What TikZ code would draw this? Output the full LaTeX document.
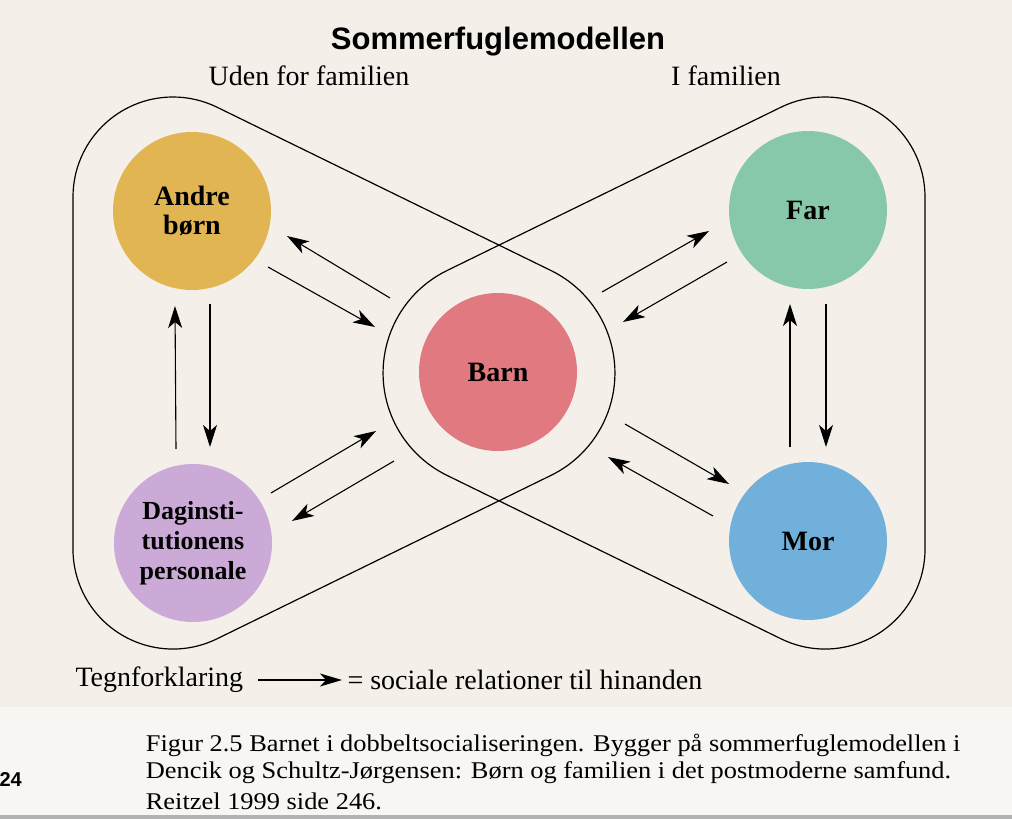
\documentclass[tikz,border=0pt]{standalone}
\usepackage{fontspec}
\setmainfont{Liberation Serif}
\setsansfont{Liberation Sans}
\usetikzlibrary{arrows.meta}
\definecolor{pagebg}{HTML}{F4F0E9}
\definecolor{pagebg2}{HTML}{F8F6F2}
\definecolor{cyellow}{HTML}{E2B553}
\definecolor{cgreen}{HTML}{86C8A9}
\definecolor{cred}{HTML}{E07A80}
\definecolor{cviolet}{HTML}{CBAAD8}
\definecolor{cblue}{HTML}{72B0DC}
\tikzset{
  person/.style={circle,minimum size=158pt,inner sep=0pt,align=center,font=\fontsize{28}{29}\selectfont\bfseries},
  rel/.style={-{Stealth[length=22pt,width=14pt,inset=6pt]},line width=1.1pt},
  loopline/.style={line width=1.2pt},
  lbl/.style={font=\fontsize{28}{30}\selectfont},
  captext/.style={font=\fontsize{24}{28}\selectfont,anchor=west,xscale=1.1,transform shape}
}
\begin{document}
\begin{tikzpicture}[x=1pt,y=-1pt]
\useasboundingbox (0,0) rectangle (1012,819);
\fill[pagebg] (0,0) rectangle (1012,707);
\fill[pagebg2] (0,707) rectangle (1012,815);
\fill[gray!60] (0,815) rectangle (1012,819);
\node[font=\fontsize{31}{33}\selectfont\sffamily\bfseries] (title) at (498,42) {Sommerfuglemodellen};
\node[lbl] (uden) at (309,76) {Uden for familien};
\node[lbl] (ifam) at (726,76) {I familien};
% loops
\draw[loopline] (73,197) arc[start angle=180,end angle=296,radius=100] -- (550.9,270.5)
  arc[start angle=-64,end angle=64,radius=114] -- (216.8,638.9)
  arc[start angle=64,end angle=180,radius=100] -- cycle;
\draw[loopline] (925,197) arc[start angle=0,end angle=-116,radius=100] -- (447.1,270.5)
  arc[start angle=244,end angle=116,radius=114] -- (781.2,638.9)
  arc[start angle=116,end angle=0,radius=100] -- cycle;
% persons
\node[person,fill=cyellow] (andre) at (192,211) {Andre\\børn};
\node[person,fill=cgreen] (far) at (808,210) {Far};
\node[person,fill=cred] (barn) at (498,372) {Barn};
\node[person,fill=cviolet,font=\fontsize{26}{30}\selectfont\bfseries] (dag) at (193,543) {Daginsti-\\tutionens\\personale};
\node[person,fill=cblue] (mor) at (808,541) {Mor};
% arrows
\draw[rel] ([shift={(198,87)}]andre.center) -- ([shift={(95,25)}]andre.center);
\draw[rel] ([shift={(76,56)}]andre.center) -- ([shift={(-123,-45)}]barn.center);
\draw[rel] ([shift={(104,-80)}]barn.center) -- ([shift={(-99,21)}]far.center);
\draw[rel] ([shift={(-81,52)}]far.center) -- ([shift={(125,-50)}]barn.center);
\draw[rel] ([shift={(-17,-94)}]dag.center) -- ([shift={(-17,95)}]andre.center);
\draw[rel] ([shift={(18,93)}]andre.center) -- ([shift={(17,-96)}]dag.center);
\draw[rel] ([shift={(-18,-94)}]mor.center) -- ([shift={(-18,94)}]far.center);
\draw[rel] ([shift={(18,94)}]far.center) -- ([shift={(18,-94)}]mor.center);
\draw[rel] ([shift={(78,-50)}]dag.center) -- ([shift={(-122,59)}]barn.center);
\draw[rel] ([shift={(-104,89)}]barn.center) -- ([shift={(99,-22)}]dag.center);
\draw[rel] ([shift={(127,52)}]barn.center) -- ([shift={(-79,-57)}]mor.center);
\draw[rel] ([shift={(-95,-25)}]mor.center) -- ([shift={(110,85)}]barn.center);
% legend
\node[lbl,anchor=west] (tegn) at (72,680) {Tegnforklaring};
\coordinate (la) at (258,680);
\coordinate (lb) at (342,680);
\draw[-{Stealth[length=22pt,width=13pt,inset=6pt]},line width=1.2pt] (la) -- (lb);
\node[lbl,anchor=west] (soc) at (344,680) {= sociale relationer til hinanden};
% caption
\node[captext] (c1) at (142,745) {Figur 2.5 Barnet i dobbeltsocialiseringen. Bygger på sommerfuglemodellen i};
\node[captext] (c2) at (142,773) {Dencik og Schultz-Jørgensen: Børn og familien i det postmoderne samfund.};
\node[captext] (c3) at (142,801) {Reitzel 1999 side 246.};
\node[font=\fontsize{20}{22}\selectfont\sffamily\bfseries,anchor=west] (pg) at (-4,780) {24};
\end{tikzpicture}
\end{document}
